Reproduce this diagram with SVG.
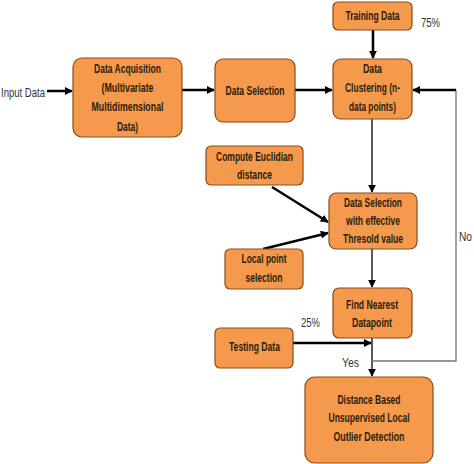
<svg xmlns="http://www.w3.org/2000/svg" width="474" height="464" viewBox="0 0 474 464">
<defs>
<marker id="ah" viewBox="0 0 10 10" refX="9" refY="5" markerWidth="3.2" markerHeight="3.2" orient="auto" markerUnits="strokeWidth"><path d="M0,0 L10,5 L0,10 z" fill="#000"/></marker>
<marker id="ahs" viewBox="0 0 10 10" refX="9" refY="5" markerWidth="6" markerHeight="6" orient="auto" markerUnits="strokeWidth"><path d="M0,0 L10,5 L0,10 z" fill="#000"/></marker>
</defs>
<style>
.box{fill:#F59A4C;stroke:#8a4a1c;stroke-width:1.2}
.t{font-family:"Liberation Sans",Arial,sans-serif;font-weight:bold;font-size:12.5px;fill:#2b1d0e;text-anchor:middle}
.r{font-family:"Liberation Sans",Arial,sans-serif;font-size:12.5px;fill:#333}
.thick{stroke:#000;stroke-width:2.5;fill:none}
.thin{stroke:#000;stroke-width:1.3;fill:none}
.fb{stroke:#777;stroke-width:1.3;fill:none}
</style>
<rect width="474" height="464" fill="#fff"/>
<g id="connectors">
<line class="thick" x1="47" y1="91" x2="72" y2="91" marker-end="url(#ah)"/>
<line class="thick" x1="182" y1="90" x2="214" y2="90" marker-end="url(#ah)"/>
<line class="thick" x1="295" y1="90" x2="332" y2="90" marker-end="url(#ah)"/>
<line class="thick" x1="373" y1="30" x2="373" y2="58" marker-end="url(#ah)"/>
<line class="thin" x1="372" y1="119" x2="372" y2="192" marker-end="url(#ahs)"/>
<line class="thick" x1="272" y1="187" x2="328" y2="222" marker-end="url(#ah)"/>
<line class="thick" x1="263" y1="249" x2="328" y2="233" marker-end="url(#ah)"/>
<line class="thin" x1="372" y1="249" x2="372" y2="287" marker-end="url(#ahs)"/>
<line class="thin" x1="372" y1="338" x2="372" y2="376" marker-end="url(#ahs)"/>
<line class="thick" x1="293" y1="343" x2="371" y2="343" marker-end="url(#ah)"/>
<polyline class="fb" points="372,361 456,361 456,90"/>
<line class="thick" x1="456" y1="90" x2="413" y2="90" marker-end="url(#ah)"/>
</g>
<g id="input-label"><text class="r" x="1" y="97" textLength="44" lengthAdjust="spacingAndGlyphs">Input Data</text></g>
<g id="training">
<rect class="box" x="333" y="2" width="79" height="28" rx="5"/>
<text class="t" x="372.5" y="20" textLength="54" lengthAdjust="spacingAndGlyphs">Training Data</text>
</g>
<g id="pct75"><text class="r" x="421" y="27" textLength="19" lengthAdjust="spacingAndGlyphs">75%</text></g>
<g id="acquisition">
<rect class="box" x="73" y="58" width="109" height="79" rx="9"/>
<text class="t" x="127.5" y="73" textLength="67" lengthAdjust="spacingAndGlyphs">Data Acquisition</text>
<text class="t" x="127.5" y="92" textLength="52" lengthAdjust="spacingAndGlyphs">(Multivariate</text>
<text class="t" x="127.5" y="111" textLength="72" lengthAdjust="spacingAndGlyphs">Multidimensional</text>
<text class="t" x="127.5" y="131" textLength="21" lengthAdjust="spacingAndGlyphs">Data)</text>
</g>
<g id="selection">
<rect class="box" x="215" y="59" width="80" height="63" rx="8"/>
<text class="t" x="255" y="95" textLength="59" lengthAdjust="spacingAndGlyphs">Data Selection</text>
</g>
<g id="clustering">
<rect class="box" x="333" y="59" width="79" height="60" rx="8"/>
<text class="t" x="372.5" y="73" textLength="19" lengthAdjust="spacingAndGlyphs">Data</text>
<text class="t" x="372.5" y="92" textLength="55" lengthAdjust="spacingAndGlyphs">Clustering (n-</text>
<text class="t" x="372.5" y="111" textLength="47" lengthAdjust="spacingAndGlyphs">data points)</text>
</g>
<g id="euclid">
<rect class="box" x="206" y="146" width="97" height="39" rx="5"/>
<text class="t" x="254.5" y="161" textLength="77" lengthAdjust="spacingAndGlyphs">Compute Euclidian</text>
<text class="t" x="254.5" y="179" textLength="35" lengthAdjust="spacingAndGlyphs">distance</text>
</g>
<g id="threshold">
<rect class="box" x="329" y="193" width="88" height="56" rx="7"/>
<text class="t" x="373" y="207" textLength="58" lengthAdjust="spacingAndGlyphs">Data Selection</text>
<text class="t" x="373" y="225" textLength="54" lengthAdjust="spacingAndGlyphs">with effective</text>
<text class="t" x="373" y="243" textLength="60" lengthAdjust="spacingAndGlyphs">Thresold value</text>
</g>
<g id="local">
<rect class="box" x="225" y="249" width="78" height="40" rx="5"/>
<text class="t" x="264" y="263" textLength="45" lengthAdjust="spacingAndGlyphs">Local point</text>
<text class="t" x="264" y="282" textLength="37" lengthAdjust="spacingAndGlyphs">selection</text>
</g>
<g id="no-label"><text class="r" x="459" y="241" textLength="13" lengthAdjust="spacingAndGlyphs">No</text></g>
<g id="nearest">
<rect class="box" x="333" y="288" width="79" height="50" rx="6"/>
<text class="t" x="372" y="309" textLength="52" lengthAdjust="spacingAndGlyphs">Find Nearest</text>
<text class="t" x="372" y="327" textLength="40" lengthAdjust="spacingAndGlyphs">Datapoint</text>
</g>
<g id="pct25"><text class="r" x="301" y="327" textLength="19" lengthAdjust="spacingAndGlyphs">25%</text></g>
<g id="testing">
<rect class="box" x="215" y="328" width="78" height="40" rx="5"/>
<text class="t" x="254.5" y="351" textLength="51" lengthAdjust="spacingAndGlyphs">Testing Data</text>
</g>
<g id="yes-label"><text class="r" x="342" y="367" textLength="17" lengthAdjust="spacingAndGlyphs">Yes</text></g>
<g id="outlier">
<rect class="box" x="305" y="377" width="128" height="86" rx="10"/>
<text class="t" x="369" y="404" textLength="63" lengthAdjust="spacingAndGlyphs">Distance Based</text>
<text class="t" x="369" y="422" textLength="81" lengthAdjust="spacingAndGlyphs">Unsupervised Local</text>
<text class="t" x="369" y="441" textLength="71" lengthAdjust="spacingAndGlyphs">Outlier  Detection</text>
</g>
</svg>
